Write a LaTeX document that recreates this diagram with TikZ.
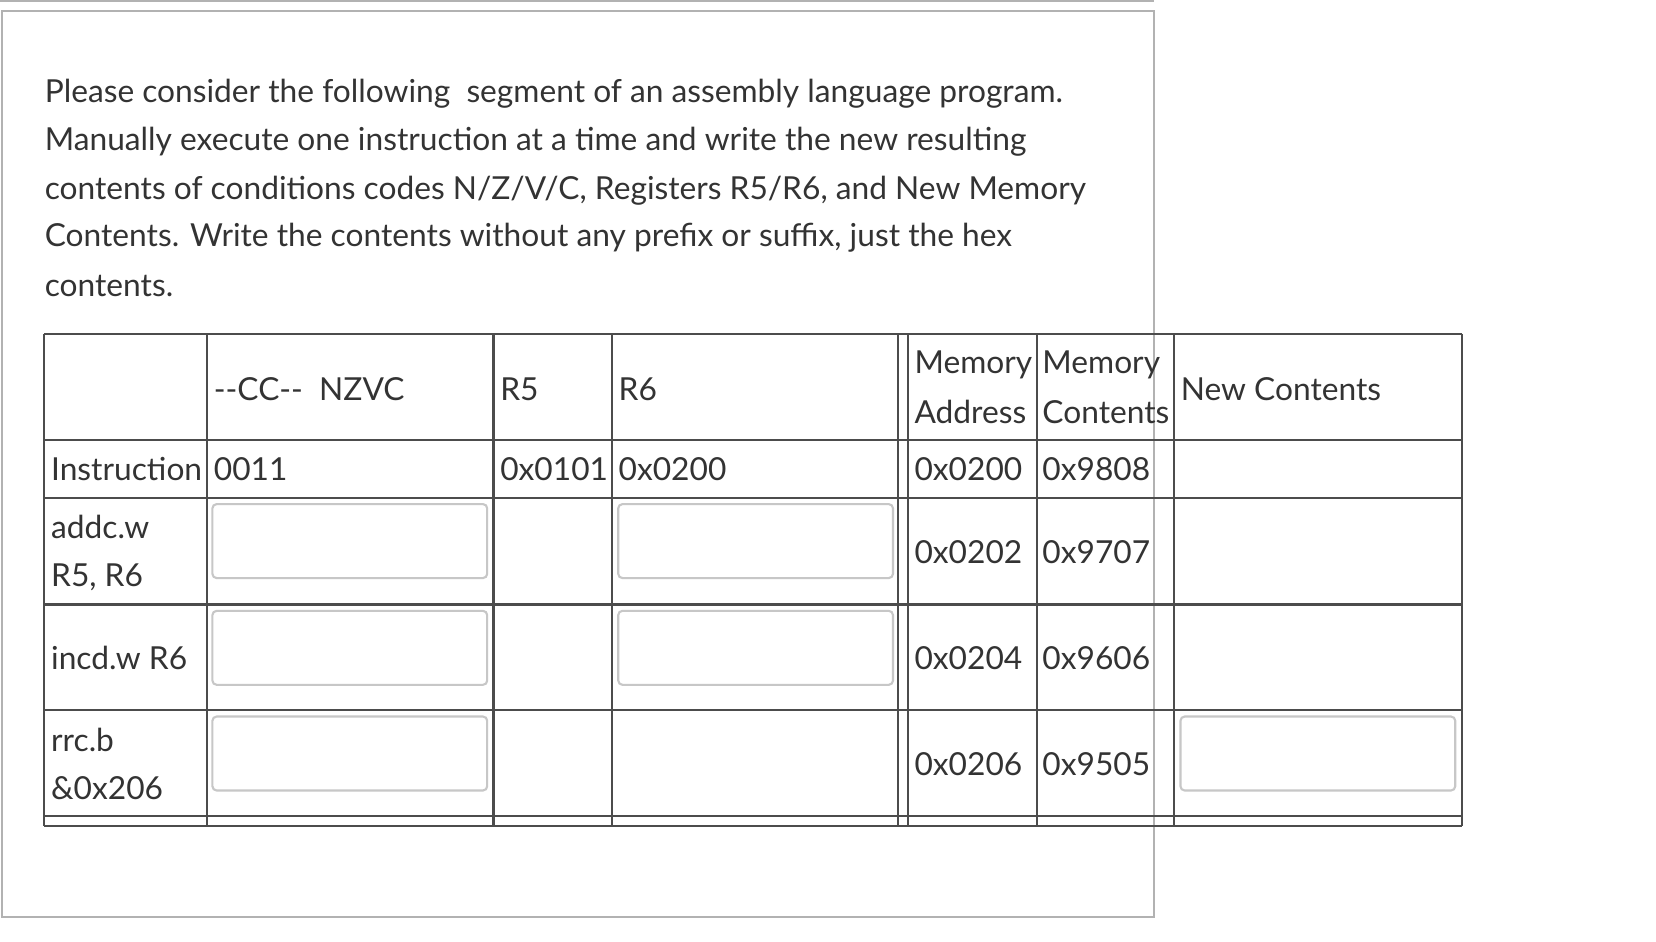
\documentclass[tikz,border=0pt]{standalone}
\usepackage{fontspec}
\setmainfont{Lato}
\begin{document}
\begin{tikzpicture}[x=0.5pt,y=-0.5pt,
  txt/.style={anchor=west,inner sep=0pt,font=\fontsize{15pt}{18pt}\selectfont,text=black!80},
  grid/.style={draw=black!70,line width=1pt},
  inbox/.style={draw=black!22,line width=1pt,rounded corners=2pt,fill=white}]
\useasboundingbox (0,0) rectangle (1567,891);
\fill[white] (0,0) rectangle (1567,891);
\draw[black!30,line width=1pt] (0,1) -- (1092,1);
\draw[black!30,line width=1pt] (2,10) rectangle (1092,868);
% paragraph
\node[txt] (p1) at (42,89) {Please consider the following\ \ segment of an assembly language program.};
\node[txt] (p2) at (42,134) {Manually execute one instruction at a time and write the new resulting};
\node[txt] (p3) at (42,180) {contents of conditions codes N/Z/V/C, Registers R5/R6, and New Memory};
\node[txt] (p4) at (42,225) {Contents. Write the contents without any prefix or suffix, just the hex};
\node[txt] (p5) at (42,271) {contents.};
% table grid
\foreach \y in {316,416,471,572,672,772,782} \draw[grid] (42,\y) -- (1383,\y);
\foreach \x in {42,196,467,579,850,859,981,1111,1383} \draw[grid] (\x,316) -- (\x,782);
% input boxes
\node[inbox,minimum width=130pt,minimum height=35pt,inner sep=0pt] (b1) at (331,512) {};
\node[inbox,minimum width=130pt,minimum height=35pt,inner sep=0pt] (b2) at (715,512) {};
\node[inbox,minimum width=130pt,minimum height=35pt,inner sep=0pt] (b3) at (331,613) {};
\node[inbox,minimum width=130pt,minimum height=35pt,inner sep=0pt] (b4) at (715,613) {};
\node[inbox,minimum width=130pt,minimum height=35pt,inner sep=0pt] (b5) at (331,713) {};
\node[inbox,minimum width=130pt,minimum height=35pt,inner sep=0pt] (b6) at (1247,713) {};
% header
\node[txt] (h1) at (202,368) {-{}-CC-{}-\ \ NZVC};
\node[txt] (h2) at (473,368) {R5};
\node[txt] (h3) at (585,368) {R6};
\node[txt] (h4) at (865,345) {Memory};
\node[txt] (h5) at (865,390) {Address};
\node[txt] (h6) at (986,345) {Memory};
\node[txt] (h7) at (986,390) {Contents};
\node[txt] (h8) at (1117,368) {New Contents};
% row 1
\node[txt] (r1a) at (48,444) {Instruction};
\node[txt] (r1b) at (202,444) {0011};
\node[txt] (r1c) at (473,444) {0x0101};
\node[txt] (r1d) at (585,444) {0x0200};
\node[txt] (r1e) at (865,444) {0x0200};
\node[txt] (r1f) at (986,444) {0x9808};
% row 2
\node[txt] (r2a) at (48,499) {addc.w};
\node[txt] (r2b) at (48,546) {R5, R6};
\node[txt] (r2e) at (865,522) {0x0202};
\node[txt] (r2f) at (986,522) {0x9707};
% row 3
\node[txt] (r3a) at (48,623) {incd.w R6};
\node[txt] (r3e) at (865,623) {0x0204};
\node[txt] (r3f) at (986,623) {0x9606};
% row 4
\node[txt] (r4a) at (48,700) {rrc.b};
\node[txt] (r4b) at (48,746) {\&0x206};
\node[txt] (r4e) at (865,723) {0x0206};
\node[txt] (r4f) at (986,723) {0x9505};
\end{tikzpicture}
\end{document}
